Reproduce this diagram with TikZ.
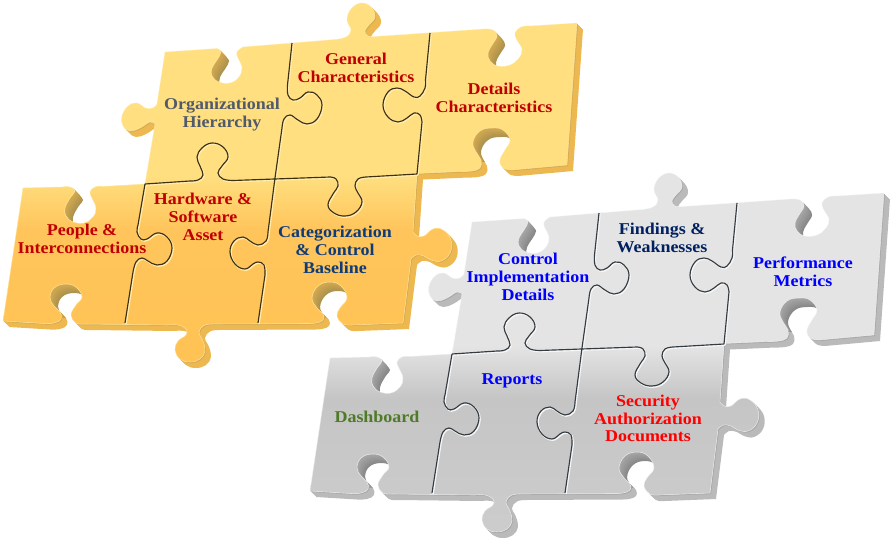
\documentclass[tikz,border=0pt]{standalone}
\usepackage{fontspec}
\setmainfont[FakeStretch=1.09]{Liberation Serif}
\definecolor{gext}{HTML}{EDB850}
\definecolor{gwall}{HTML}{A8904E}
\definecolor{gtop}{HTML}{FFDF80}
\definecolor{gmid}{HTML}{FFC55C}
\definecolor{gbot}{HTML}{FFC253}
\definecolor{gseam}{HTML}{3E300F}
\definecolor{glite}{HTML}{FFEDB0}
\definecolor{sext}{HTML}{BABABA}
\definecolor{swall}{HTML}{858585}
\definecolor{stop}{HTML}{E4E4E4}
\definecolor{smid}{HTML}{C5C5C5}
\definecolor{sbot}{HTML}{CDCDCD}
\definecolor{sseam}{HTML}{343C42}
\definecolor{slite}{HTML}{F6F6F6}
\tikzset{
  puzzleface/.style={insert path={
    (165,52) -- (217,48.5)
    -- plot[smooth,tension=.7] coordinates {(217,48.5)(221,52)(217,60)(212,68)(212,76)(219,82)(230,83)(239,77)(242,67)(238,58)(237,52)(243,47)}
    -- (335,39.5)
    -- plot[smooth,tension=.7] coordinates {(335,39.5)(346,37)(351,30)(347,20)(351,9)(361,3)(371,7)(375,17)(369,25)(365,31)(368,36)(376,36.5)}
    -- (484,29)
    -- plot[smooth,tension=.7] coordinates {(484,29)(493,30)(497,36)(492,45)(488,53)(490,61)(498,66)(510,65)(519,58)(522,49)(517,40)(515,33)(521,27)(530,26)}
    -- (577,23) -- (567,165) -- (512,170)
    -- plot[smooth,tension=.7] coordinates {(512,170)(503,168)(500,160)(505,150)(510,140)(503,130)(492,128)(480,131)(473,142)(476,152)(481,160)(480,168)(472,171)(462,171.5)}
    -- (417,173.5) -- (413,232)
    -- plot[smooth,tension=.7] coordinates {(413,232)(417,236)(424,236)(433,229)(443,230)(451,240)(450,253)(441,261)(431,260)(424,256)(416,255)(411,259)}
    -- (403,323) -- (352,325)
    -- plot[smooth,tension=.7] coordinates {(352,325)(343,324)(337,316)(340,308)(347,298)(341,286)(330,282)(318,286)(312,298)(317,308)(323,314)(323,320)(316,323)(306,323.5)}
    -- (212,324)
    -- plot[smooth,tension=.7] coordinates {(212,324)(204,325.5)(199,332)(203,341)(205,351)(200,359)(190,362)(180,359)(175,350)(178,341)(186,335)(186,329)(178,325)(168,325)}
    -- (85,324)
    -- plot[smooth,tension=.7] coordinates {(85,324)(76,323)(71,315)(76,305)(82,297)(76,287)(65,284)(54,288)(50,298)(54,306)(60,312)(61,319)(54,323)(44,323.5)}
    -- (3,321) -- (23,188) -- (62,187)
    -- plot[smooth,tension=.7] coordinates {(62,187)(70,187)(75,191)(70,198)(65,208)(66,216)(73,222)(84,223)(93,217)(96,208)(92,198)(90,192)(95,187)(103,186.5)}
    -- (145,184) -- (155,124)
    -- plot[smooth,tension=.7] coordinates {(155,124)(150,122)(140,128)(130,131)(123,126)(122,116)(128,106)(137,103)(145,108)(153,108)(157,104)}
    -- cycle}},
  puzzleseams/.style={insert path={
    (292,43) -- (287.5,85)
    -- plot[smooth,tension=.7] coordinates {(287.5,85)(288,95)(293,100)(300,98)(308,92)(317,95)(322,105)(317,119)(307,124)(298,120)(290,115)(284,119)(282,128)}
    -- (275,178) -- (268,232)
    -- plot[smooth,tension=.7] coordinates {(268,232)(266,241)(258,245)(250,241)(243,237)(234,241)(230,252)(235,264)(245,269)(253,264)(258,262)(264,265)(265,275)}
    -- (258,323)
    (430,33) -- (425.5,80)
    -- plot[smooth,tension=.7] coordinates {(425.5,80)(425,88)(420,96)(414,97)(405,91)(397,88)(388,92)(383,105)(388,117)(398,122)(407,118)(414,113)(420,115)(422,122)}
    -- (417,174)
    (145,184) -- (190,181)
    -- plot[smooth,tension=.7] coordinates {(190,181)(198,180)(203,175)(200,166)(197,157)(202,148)(212,143)(223,147)(228,157)(222,166)(218,173)(223,179)(233,180.5)}
    -- (330,177)
    -- plot[smooth,tension=.7] coordinates {(330,177)(336,179)(338,186)(333,194)(328,205)(334,213)(345,216)(356,212)(362,202)(358,193)(355,186)(358,179)(366,177)}
    -- (417,174)
    (145,184) -- (138,225)
    -- plot[smooth,tension=.7] coordinates {(138,225)(137,232)(141,239)(147,239)(157,233)(167,237)(172,248)(167,261)(157,265)(148,261)(142,258)(136,262)(133,272)}
    -- (125,323)}},
  puzzlelabel/.style={align=center,inner sep=0pt,font=\fontsize{16.5}{17.8}\selectfont\bfseries}
}
\newcommand{\puzzleblock}[9]{%
  \begin{scope}[shift={(#1,#2)}]
    \foreach \t in {6,...,2}{\path[fill=#3,shift={(\t,\t)}] [puzzleface];}
    \path[fill=#4!35!#3,shift={(1,1)}] [puzzleface];
    \begin{scope}
      \clip (228,68) circle (21) (505,48) circle (23) (491,141) circle (22)
            (330,296) circle (22) (65,296) circle (22) (80,205) circle (22);
      \foreach \t in {9,...,1}{\path[fill=#4!\the\numexpr 30+\t*7\relax!#3,shift={(\t*0.9,\t)}] [puzzleface];}
    \end{scope}
    \path[fill=#5] [puzzleface];
    \begin{scope}
      \path[clip] [puzzleface];
      \shade[top color=#5,bottom color=#6,shading angle=0] (-5,176) rectangle (600,228);
      \shade[top color=#6,bottom color=#7,shading angle=0] (-5,228) rectangle (600,370);
    \end{scope}
    \path[draw=#9,line width=.6pt,opacity=.6,line join=round] [puzzleface];
    \path[draw=#9,line width=1.8pt,shift={(.9,1)},line join=round] [puzzleseams];
    \path[draw=#8,line width=1.15pt,line join=round] [puzzleseams];
  \end{scope}}
\begin{document}
\begin{tikzpicture}[x=1pt,y=-1pt]
\useasboundingbox (0,0) rectangle (892,539);
\puzzleblock{0}{0}{gext}{gwall}{gtop}{gmid}{gbot}{gseam}{glite}
\puzzleblock{307}{170}{sext}{swall}{stop}{smid}{sbot}{sseam}{slite}
\node[puzzlelabel,text={rgb,255:red,80;green,90;blue,107}] (org) at (222,114.5) {Organizational\\Hierarchy};
\node[puzzlelabel,text={rgb,255:red,192;green,0;blue,0}] (gen) at (356,68) {General\\Characteristics};
\node[puzzlelabel,text={rgb,255:red,192;green,0;blue,0}] (det) at (494,98) {Details\\Characteristics};
\node[puzzlelabel,text={rgb,255:red,192;green,0;blue,0}] (peo) at (82,239) {People \&\\Interconnections};
\node[puzzlelabel,text={rgb,255:red,192;green,0;blue,0}] (hw) at (203,217) {Hardware \&\\Software\\Asset};
\node[puzzlelabel,text={rgb,255:red,15;green,60;blue,120}] (cat) at (335,250) {Categorization\\\& Control\\Baseline};
\node[puzzlelabel,text={rgb,255:red,0;green,0;blue,255}] (ctl) at (528,277) {Control\\Implementation\\Details};
\node[puzzlelabel,text={rgb,255:red,0;green,32;blue,96}] (fin) at (662,238) {Findings \&\\Weaknesses};
\node[puzzlelabel,text={rgb,255:red,0;green,0;blue,255}] (per) at (803,272) {Performance\\Metrics};
\node[puzzlelabel,text={rgb,255:red,79;green,122;blue,40}] (das) at (377,417) {Dashboard};
\node[puzzlelabel,text={rgb,255:red,0;green,0;blue,255}] (rep) at (512,381) {Reports};
\node[puzzlelabel,text={rgb,255:red,255;green,0;blue,0}] (sec) at (648,418.5) {Security\\Authorization\\Documents};
\end{tikzpicture}
\end{document}
